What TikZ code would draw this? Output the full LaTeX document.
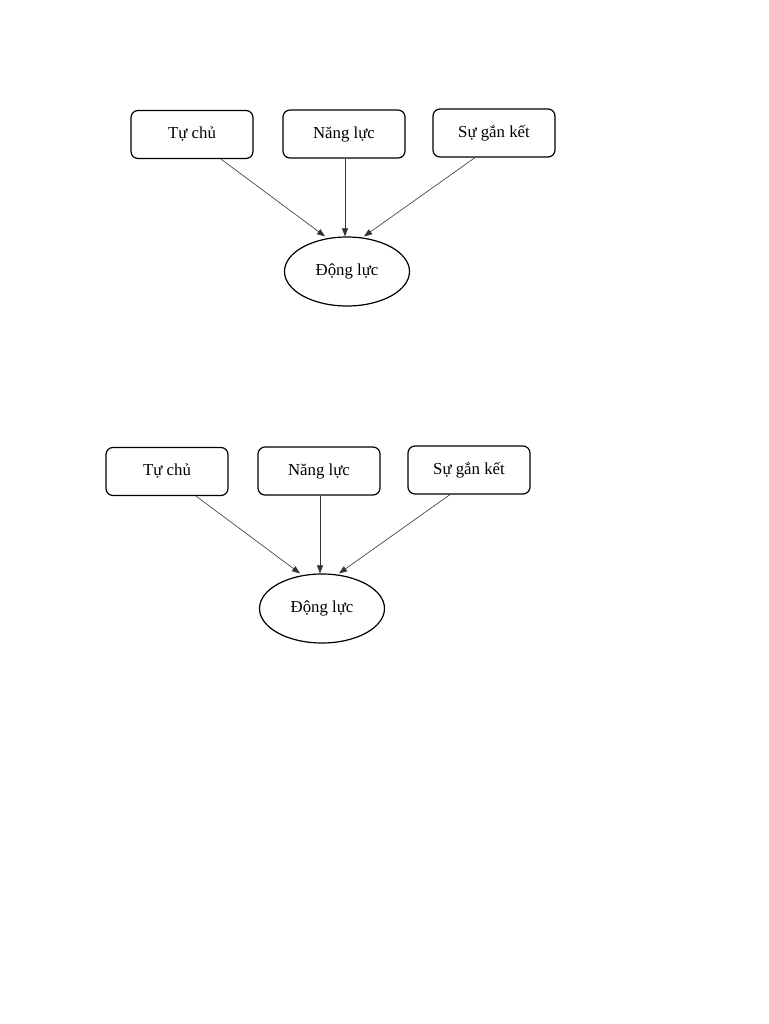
\documentclass[tikz,border=0pt]{standalone}
\usepackage{fontspec}
\setmainfont{Liberation Serif}
\usetikzlibrary{arrows.meta,shapes.geometric}
\tikzset{
  factor/.style={draw, rounded corners=7pt, line width=1.2pt, minimum width=122pt,
                 minimum height=48pt, inner sep=2pt},
  goal/.style={draw, ellipse, line width=1.2pt, minimum width=125pt,
               minimum height=69pt, inner sep=0pt},
  link/.style={-{Triangle[length=8pt,width=6pt]}, line width=0.6pt, draw=black!80},
}

\begin{document}
\begin{tikzpicture}[x=1pt, y=-1pt, font=\fontsize{16.8}{20}\selectfont]
\useasboundingbox[fill=white] (0,0) rectangle (768,1024);

\foreach \i/\dx/\dy in {1/0/0, 2/-25/337} {
  \begin{scope}[shift={(\dx,\dy)}]
    \node[factor] (t\i) at (192,134.5) {Tự chủ};
    \node[factor] (n\i) at (344,134) {Năng lực};
    \node[factor] (s\i) at (494,133) {Sự gắn kết};
    \node[goal] (d\i) at (347,271.5) {Động lực};
    \draw[link] ([xshift=29]t\i.south) -- ([xshift=-22]d\i.north);
    \draw[link] ([xshift=1]n\i.south) -- ([xshift=-2]d\i.north);
    \draw[link] ([xshift=-19]s\i.south) -- ([xshift=17]d\i.north);
  \end{scope}
}

\end{tikzpicture}
\end{document}
